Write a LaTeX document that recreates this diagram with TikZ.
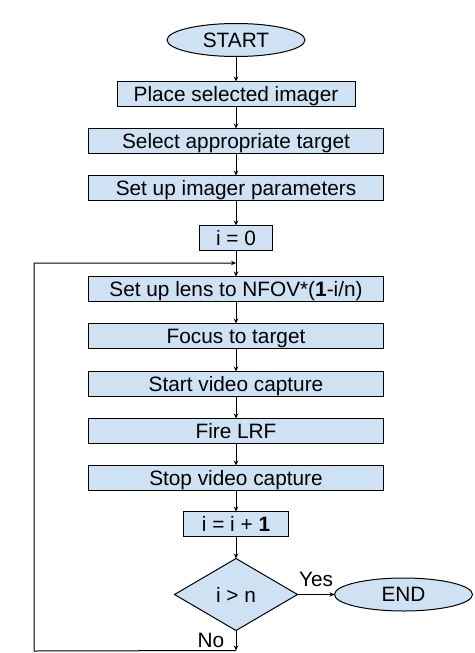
\documentclass[tikz,border=0pt]{standalone}
\usepackage{fontspec}
\setmainfont{Liberation Sans}
\usetikzlibrary{positioning,shapes.geometric,arrows.meta}

\definecolor{boxblue}{HTML}{CFE2F3}

\tikzset{
  flowtext/.style={font=\fontsize{20.8}{24}\selectfont},
  process/.style={rectangle, draw, fill=boxblue, minimum height=25pt, inner sep=1pt, outer sep=0pt,
    text height=18.8pt, text depth=4pt, flowtext},
  terminal/.style={ellipse, draw, fill=boxblue, minimum width=138pt, minimum height=33pt, inner sep=0pt, outer sep=0pt, flowtext},
  decision/.style={diamond, draw, fill=boxblue, minimum width=123pt, minimum height=72pt, inner sep=0pt, outer sep=0pt, flowtext},
}

\begin{document}
\begin{tikzpicture}[x=1pt, y=1pt, line width=1pt, >={Stealth[length=5pt,width=4.5pt]}]

  \useasboundingbox (0,0) rectangle (474,-653);

  \node (start) [terminal] at (236,-40) {START};
  \node (place) [process, minimum width=238pt, below=25pt of start] {Place selected imager};
  \node (select) [process, minimum width=295pt, below=22pt of place] {Select appropriate target};
  \node (setup) [process, minimum width=295pt, below=22pt of select] {Set up imager parameters};
  \node (izero) [process, minimum width=73pt, below=25pt of setup] {i = 0};
  \node (lens) [process, minimum width=295pt, below=26pt of izero] {Set up lens to NFOV*(\textbf{1}-i/n)};
  \node (focus) [process, minimum width=295pt, below=22pt of lens] {Focus to target};
  \node (video) [process, minimum width=295pt, below=23pt of focus] {Start video capture};
  \node (fire) [process, minimum width=295pt, below=22pt of video] {Fire LRF};
  \node (stop) [process, minimum width=295pt, below=22pt of fire] {Stop video capture};
  \node (incr) [process, minimum width=105pt, below=21pt of stop] {i = i + \textbf{1}};
  \node (cond) [decision, below=22pt of incr] {i > n};
  \node (end) [terminal, right=37pt of cond] {END};

  \coordinate [below=20pt of cond] (noend);
  \coordinate (loopbl) at (34,-651);
  \coordinate (looptl) at (34,-263);
  \coordinate (join) at (lens.north |- looptl);

  \draw [->] (start) -- (place);
  \draw [->] (place) -- (select);
  \draw [->] (select) -- (setup);
  \draw [->] (setup) -- (izero);
  \draw [->] (izero) -- (lens);
  \draw [->] (lens) -- (focus);
  \draw [->] (focus) -- (video);
  \draw [->] (video) -- (fire);
  \draw [->] (fire) -- (stop);
  \draw [->] (stop) -- (incr);
  \draw [->] (incr) -- (cond);
  \draw [->] (cond) -- (end) node [midway, above=4pt, flowtext] (yes) {Yes};
  \draw [->] (cond) -- (noend) node [midway, left=8pt, flowtext] (no) {No};
  \draw [->] (noend) -- (loopbl) -- (looptl) -- (join);

\end{tikzpicture}
\end{document}
